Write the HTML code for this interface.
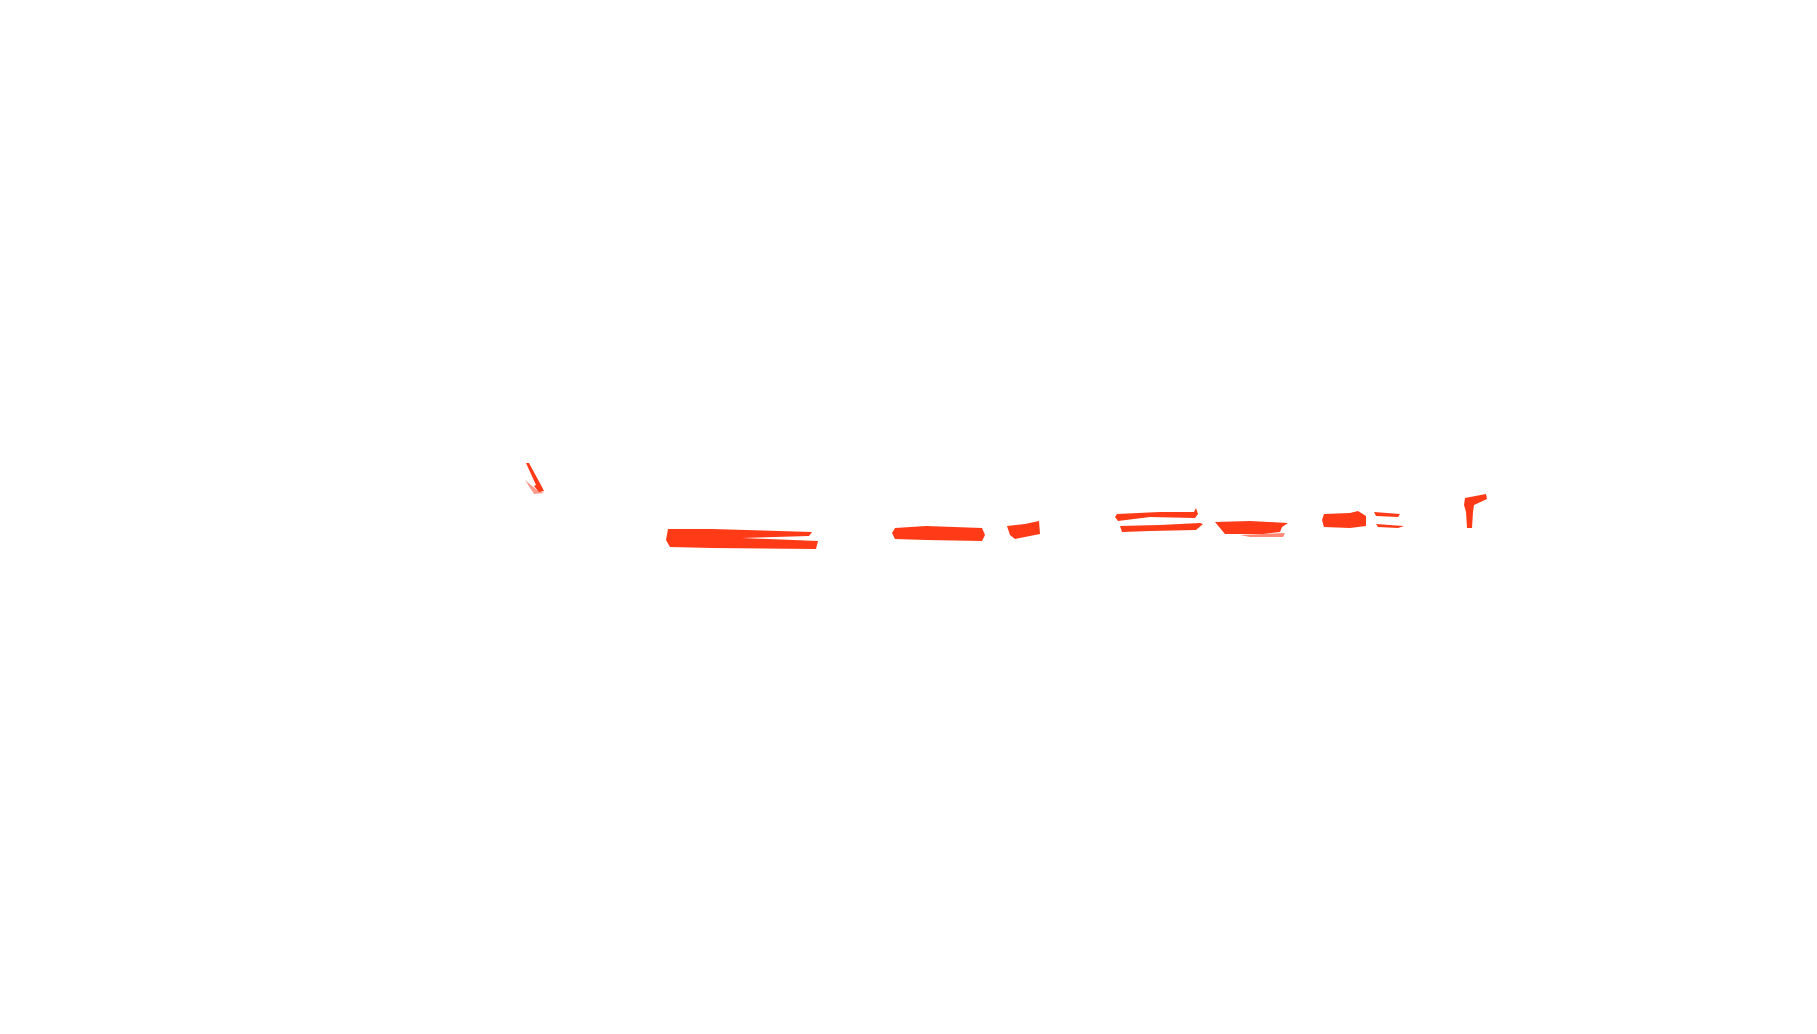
<!DOCTYPE html>
<html><head><meta charset="utf-8"><style>html,body{margin:0;padding:0;background:#fff;width:1817px;height:1034px;overflow:hidden}</style></head>
<body>
<svg width="1817" height="1034" viewBox="0 0 1817 1034" xmlns="http://www.w3.org/2000/svg">
<g fill="#ff3a17" stroke="none">
<path d="M526 463 L529 463 L542 487 L544 491 L539 492 L534 486 L536 485 Z"/>
<path d="M525 480 L537 490 L544 493 L534 494 Z" opacity="0.5"/>
<g transform="translate(12,0)">
<path d="M656 529 L700 529 L800 532 L797 536 L730 538 L806 541 L804 549 L700 548 L658 547 L654 540 Z"/>
</g>
<g transform="translate(26,0)">
<path d="M869 528 L900 526 L956 528 L959 535 L956 541 L900 540 L869 539 L866 533 Z"/>
</g>
<g transform="translate(35,0)">
<path d="M972 526 L990 524 L1004 521 L1005 534 L980 539 L975 535 Z"/>
</g>
<path d="M1117 514 L1160 512 L1194 512 L1196 508 L1198 514 L1195 518 L1150 517 L1118 521 L1115 517 Z"/>
<path d="M1120 526 L1160 525 L1200 523 L1203 524 L1196 530 L1150 531 L1122 532 Z"/>
<path d="M1215 522 L1250 521 L1288 523 L1282 527 L1280 532 L1263 534 L1225 534 Z"/>
<path d="M1240 535 L1285 533 L1283 537 L1250 537 Z" opacity="0.6"/>
<path d="M1324 514 L1350 513 L1358 511 L1366 516 L1366 526 L1350 528 L1324 527 L1322 520 Z"/>
<path d="M1374 512 L1400 514 L1398 517 L1376 516 Z"/>
<path d="M1376 524 L1404 526 L1398 528 L1378 527 Z"/>
<path d="M1465 498 L1486 494 L1487 499 L1474 505 L1473 512 L1472 528 L1467 528 L1466 512 L1464 505 Z"/>
</g>
</svg>
</body></html>
